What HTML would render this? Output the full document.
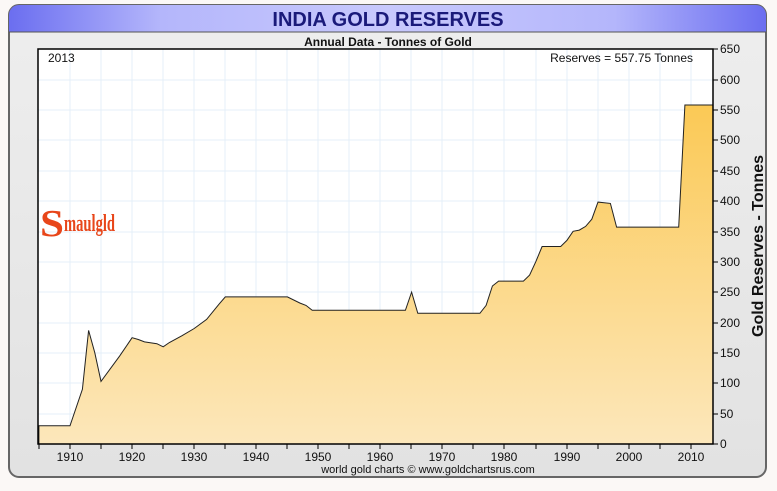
<!DOCTYPE html>
<html><head><meta charset="utf-8"><style>
body{margin:0;width:777px;height:486px;background:#fbf8f6;overflow:hidden;font-family:"Liberation Sans",sans-serif}
</style></head><body>
<svg width="777" height="486" xmlns="http://www.w3.org/2000/svg" font-family="Liberation Sans, sans-serif">
<defs>
<linearGradient id="hd" x1="0" x2="1" y1="0" y2="0">
<stop offset="0" stop-color="#6b6ef0"/><stop offset="0.2" stop-color="#b4b6fb"/><stop offset="0.5" stop-color="#c8c9fd"/><stop offset="0.8" stop-color="#b4b6fb"/><stop offset="1" stop-color="#6b6ef0"/></linearGradient>
<linearGradient id="pn" x1="0" x2="0" y1="0" y2="1"><stop offset="0" stop-color="#eeeeee"/><stop offset="1" stop-color="#e2e2e2"/></linearGradient>
<linearGradient id="ar" x1="0" x2="0" y1="0" y2="1"><stop offset="0" stop-color="#fbc955"/><stop offset="1" stop-color="#fce7bb"/></linearGradient>
</defs>
<rect x="9" y="5" width="757" height="472" rx="10" fill="url(#pn)" stroke="#666" stroke-width="2"/>
<path d="M9 32 V15 a10 10 0 0 1 10 -10 H756 a10 10 0 0 1 10 10 V32 Z" fill="url(#hd)"/>
<line x1="9" y1="32" x2="766" y2="32" stroke="#555" stroke-width="1"/>
<text x="388" y="26" text-anchor="middle" font-size="20" font-weight="bold" fill="#1a1a7a">INDIA GOLD RESERVES</text>
<text x="388" y="46" text-anchor="middle" font-size="12" font-weight="bold" fill="#111">Annual Data - Tonnes of Gold</text>
<rect x="38" y="49" width="675" height="395" fill="#fff"/>
<g stroke="#e4eff8" stroke-width="1">
<path d="M70 49V444M101 49V444M132 49V444M163 49V444M194 49V444M225 49V444M256 49V444M287 49V444M318 49V444M349 49V444M380 49V444M411 49V444M442 49V444M473 49V444M504 49V444M536 49V444M567 49V444M598 49V444M629 49V444M660 49V444M691 49V444"/>
<path d="M38 80H713M38 110H713M38 140H713M38 171H713M38 201H713M38 232H713M38 262H713M38 292H713M38 323H713M38 353H713M38 383H713M38 414H713"/>
</g>
<polygon fill="url(#ar)" stroke="#222" stroke-width="1" points="38.9,425.8 70,425.8 82.4,389.3 88.6,330.4 94.8,352.8 101,381.4 119.7,355.9 132.1,337.7 138.3,339.5 144.5,341.9 156.9,343.7 163.2,346.8 169.4,342.5 181.8,335.8 194.2,328.5 206.6,319.4 219,304.2 225.3,296.9 287.4,296.9 299.8,303 306,305.4 312.2,310.3 405.4,310.3 411.6,292.1 417.8,313.3 479.9,313.3 486.1,305.4 492.4,286 498.6,281.1 523.4,281.1 529.6,275.1 535.8,261.7 542.1,246.5 560.7,246.5 566.9,240.4 573.1,231.3 579.3,230.1 585.6,226.4 591.8,219.2 598,202.1 610.4,203.4 616.6,227.1 678.7,227.1 684.9,105 713,105 713,444 38.9,444"/>
<rect x="38" y="49" width="675" height="395" fill="none" stroke="#000" stroke-width="1.5"/>
<text x="48" y="62" font-size="12" fill="#111">2013</text>
<text x="693" y="62" text-anchor="end" font-size="12" fill="#111">Reserves = 557.75 Tonnes</text>
<text x="40" y="236" font-size="38" font-weight="bold" fill="#e8461a" font-family="Liberation Serif, serif" textLength="24" lengthAdjust="spacingAndGlyphs">S</text>
<text x="64" y="231" font-size="24" font-weight="bold" fill="#e8461a" font-family="Liberation Serif, serif" textLength="51" lengthAdjust="spacingAndGlyphs">maulgld</text>
<g stroke="#000" stroke-width="1">
<path d="M39 444v5M70 444v5M101 444v5M132 444v5M163 444v5M194 444v5M225 444v5M256 444v5M287 444v5M318 444v5M349 444v5M380 444v5M411 444v5M442 444v5M473 444v5M504 444v5M536 444v5M567 444v5M598 444v5M629 444v5M660 444v5M691 444v5"/>
<path d="M713 49h5M713 80h5M713 110h5M713 140h5M713 171h5M713 201h5M713 232h5M713 262h5M713 292h5M713 323h5M713 353h5M713 383h5M713 414h5M713 444h5"/>
</g>
<g font-size="12" fill="#111" text-anchor="middle">
<text x="70" y="461">1910</text><text x="132" y="461">1920</text><text x="194" y="461">1930</text><text x="256" y="461">1940</text><text x="318" y="461">1950</text><text x="380" y="461">1960</text><text x="442" y="461">1970</text><text x="504" y="461">1980</text><text x="567" y="461">1990</text><text x="629" y="461">2000</text><text x="691" y="461">2010</text>
</g>
<g font-size="12" fill="#111">
<text x="720" y="53">650</text><text x="720" y="84">600</text><text x="720" y="114">550</text><text x="720" y="144">500</text><text x="720" y="175">450</text><text x="720" y="205">400</text><text x="720" y="236">350</text><text x="720" y="266">300</text><text x="720" y="296">250</text><text x="720" y="327">200</text><text x="720" y="357">150</text><text x="720" y="387">100</text><text x="720" y="418">50</text><text x="720" y="448">0</text>
</g>
<text transform="translate(763,246) rotate(-90)" text-anchor="middle" font-size="16" font-weight="bold" fill="#111">Gold Reserves - Tonnes</text>
<text x="428" y="473" text-anchor="middle" font-size="11" fill="#111">world gold charts © www.goldchartsrus.com</text>
</svg>
</body></html>
